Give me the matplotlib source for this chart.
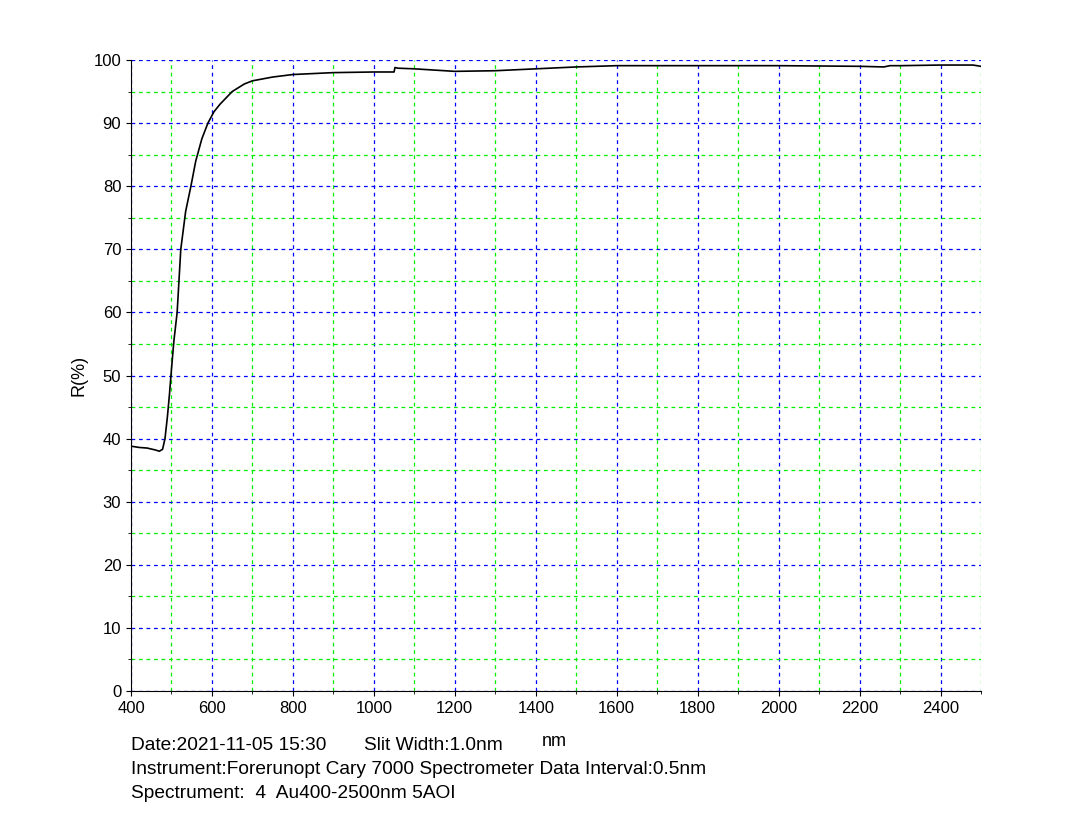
import matplotlib
matplotlib.use("Agg")
import matplotlib.pyplot as plt
from matplotlib.ticker import MultipleLocator

wavelength = [400, 420, 440, 460, 470, 478, 484, 490, 495, 500, 506, 514, 523, 535, 548, 560, 575, 590, 605,
              620, 650, 680, 700, 750, 800, 900, 1000, 1050, 1052, 1060, 1100, 1200, 1300, 1400, 1500,
              1600, 1800, 2000, 2200, 2260, 2275, 2300, 2400, 2480, 2500]
reflect = [38.8, 38.6, 38.5, 38.2, 38.0, 38.3, 40, 43.5, 47, 51, 55.5, 60, 70, 76, 80, 84, 87.5, 90, 91.8,
           93, 95, 96.2, 96.7, 97.3, 97.7, 98.0, 98.1, 98.1, 98.8, 98.7, 98.6, 98.2, 98.3, 98.6, 98.9,
           99.1, 99.1, 99.1, 99.0, 98.9, 99.1, 99.1, 99.2, 99.2, 99.0]

plt.rcParams['font.family'] = ['Liberation Sans', 'DejaVu Sans']
fig = plt.figure(figsize=(10.79, 8.32), dpi=100)
ax = fig.add_axes([131/1079, 1-691/832, 850/1079, 631/832])
ax.plot(wavelength, reflect, color='black', lw=1.2)
ax.set_xlim(400, 2500)
ax.set_ylim(0, 100)
ax.xaxis.set_major_locator(MultipleLocator(200))
ax.xaxis.set_minor_locator(MultipleLocator(100))
ax.yaxis.set_major_locator(MultipleLocator(10))
ax.yaxis.set_minor_locator(MultipleLocator(5))
ax.grid(which='major', color='#0000ff', ls=(0, (3, 3)), lw=0.9)
ax.grid(which='minor', color='#00ee00', ls=(0, (3, 3)), lw=0.9)
ax.tick_params(labelsize=12, direction='out')
for s in ['top', 'right']:
    ax.spines[s].set_visible(False)
ax.set_ylabel('R(%)', fontsize=13)
fig.text(542/1079, 1-742/832, 'nm', fontsize=13, ha='left', va='center')
fig.text(131/1079, 1-746/832, 'Date:2021-11-05 15:30       Slit Width:1.0nm', fontsize=13.8, va='center')
fig.text(131/1079, 1-770/832, 'Instrument:Forerunopt Cary 7000 Spectrometer Data Interval:0.5nm', fontsize=13.8, va='center')
fig.text(131/1079, 1-793/832, 'Spectrument:  4  Au400-2500nm 5AOI', fontsize=13.8, va='center')
fig.savefig('out.png', dpi=100)
